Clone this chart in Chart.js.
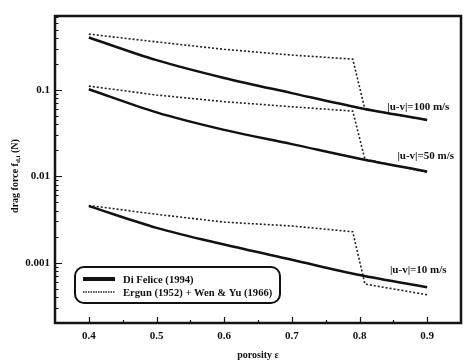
<!DOCTYPE html>
<html lang="en">
<head>
<meta charset="UTF-8">
<title>Drag force vs porosity</title>
<script src="https://cdn.jsdelivr.net/npm/chart.js"></script>
<style>
    html, body { margin: 0; padding: 0; background: #fff; }
    #wrap { width: 474px; height: 364px; }
</style>
</head>
<body>
<div id="wrap"><canvas id="dragChart" width="474" height="364"></canvas></div>
<script>
// porosity values (x)
const eps = [0.4, 0.5, 0.6, 0.7, 0.8, 0.9];
const epsErgun = [0.4, 0.5, 0.6, 0.7, 0.79, 0.808, 0.9];

// Di Felice (1994), solid lines
const diFelice100 = [0.406, 0.222, 0.138, 0.092, 0.062, 0.045];
const diFelice50 = [0.102, 0.055, 0.0345, 0.0236, 0.016, 0.0114];
const diFelice10 = [0.00452, 0.00253, 0.00162, 0.00108, 0.00072, 0.00052];

// Ergun (1952) + Wen & Yu (1966), dotted lines
const ergun100 = [0.444, 0.361, 0.296, 0.254, 0.228, 0.060, 0.045];
const ergun50 = [0.111, 0.0875, 0.0733, 0.064, 0.057, 0.0158, 0.0111];
const ergun10 = [0.0046, 0.00363, 0.00295, 0.00266, 0.00228, 0.000565, 0.000425];

const xTicks = [0.4, 0.5, 0.6, 0.7, 0.8, 0.9];
const yTicks = [0.001, 0.01, 0.1];

const speedLabels = ["|u-v|=100 m/s", "|u-v|=50 m/s", "|u-v|=10 m/s"];

const serif = "'Liberation Serif', 'DejaVu Serif', serif";

function pts(xs, ys) {
    return xs.map((x, i) => ({ x: x, y: ys[i] }));
}

function solid(label, xs, ys) {
    return {
        label: label, data: pts(xs, ys),
        borderColor: "#111", borderWidth: 2.5,
        pointRadius: 0, fill: false,
        cubicInterpolationMode: "monotone"
    };
}

function dotted(label, xs, ys) {
    return {
        label: label, data: pts(xs, ys),
        borderColor: "#222", borderWidth: 1.6, borderDash: [2, 2],
        pointRadius: 0, fill: false, tension: 0
    };
}

const solidName = "Di Felice (1994)";
const dottedName = "Ergun (1952) + Wen & Yu (1966)";

// frame and inward ticks
const framePlugin = {
    id: "frame",
    afterDatasetsDraw(chart) {
        const ctx = chart.ctx, a = chart.chartArea;
        const xs = chart.scales.x, ys = chart.scales.y;
        ctx.save();
        ctx.strokeStyle = "#111";
        ctx.lineWidth = 1.2;
        ctx.beginPath();
        for (let v = 0.4; v <= 0.9001; v += 0.05) {
            const px = Math.round(xs.getPixelForValue(v)) + 0.5;
            const major = Math.abs(v * 10 - Math.round(v * 10)) < 1e-6;
            ctx.moveTo(px, a.bottom);
            ctx.lineTo(px, a.bottom - (major ? 6 : 3));
        }
        for (let e = -4; e <= 0; e++) {
            for (let k = 1; k <= 9; k++) {
                const v = k * Math.pow(10, e);
                if (v < ys.min || v > ys.max) continue;
                const py = Math.round(ys.getPixelForValue(v)) + 0.5;
                ctx.moveTo(a.left, py);
                ctx.lineTo(a.left + (k === 1 ? 7 : 3.5), py);
            }
        }
        ctx.stroke();
        ctx.lineWidth = 2.5;
        ctx.strokeStyle = "#151515";
        ctx.strokeRect(a.left, a.top, a.right - a.left, a.bottom - a.top);
        ctx.restore();
    }
};

// curve labels and y title with subscript
const textPlugin = {
    id: "texts",
    afterDraw(chart) {
        const ctx = chart.ctx;
        const xs = chart.scales.x, ys = chart.scales.y;
        const spots = [[0.841, 0.0636], [0.856, 0.017], [0.845, 0.00081]];
        ctx.save();
        ctx.fillStyle = "#111";
        ctx.font = "bold 11px " + serif;
        ctx.textBaseline = "middle";
        ctx.textAlign = "left";
        speedLabels.forEach((t, i) => {
            ctx.fillText(t, xs.getPixelForValue(spots[i][0]), ys.getPixelForValue(spots[i][1]));
        });

        // y axis title
        ctx.translate(15, 176);
        ctx.rotate(-Math.PI / 2);
        const big = "bold 10px " + serif, small = "bold 7px " + serif;
        ctx.font = big;
        const p1 = "drag force f", p3 = " (N)";
        const w1 = ctx.measureText(p1).width, w3 = ctx.measureText(p3).width;
        ctx.font = small;
        const w2 = ctx.measureText("d,i").width;
        let x0 = -(w1 + w2 + w3) / 2;
        ctx.font = big;
        ctx.fillText(p1, x0, 0);
        ctx.font = small;
        ctx.fillText("d,i", x0 + w1, 3);
        ctx.font = big;
        ctx.fillText(p3, x0 + w1 + w2, 0);
        ctx.restore();
    }
};

// rounded legend box
const legendPlugin = {
    id: "boxLegend",
    afterDraw(chart) {
        const ctx = chart.ctx;
        const ds = chart.data.datasets;
        const items = [ds[0], ds[3]];
        const bx = 75, by = 267, bw = 205, bh = 36;
        ctx.save();
        ctx.lineWidth = 2;
        ctx.strokeStyle = "#111";
        ctx.fillStyle = "#fff";
        ctx.beginPath();
        ctx.roundRect(bx, by, bw, bh, 9);
        ctx.fill();
        ctx.stroke();
        items.forEach((d, i) => {
            const y = by + 12 + i * 13;
            ctx.beginPath();
            ctx.lineWidth = i === 0 ? 4 : 1.6;
            ctx.setLineDash(i === 0 ? [] : [1.5, 1]);
            ctx.strokeStyle = d.borderColor;
            ctx.moveTo(83, y);
            ctx.lineTo(115, y);
            ctx.stroke();
            ctx.setLineDash([]);
            ctx.fillStyle = "#111";
            ctx.font = "bold 10.6px " + serif;
            ctx.textBaseline = "middle";
            ctx.fillText(d.label, 123, y + 1);
        });
        ctx.restore();
    }
};

new Chart(document.getElementById("dragChart"), {
    type: "line",
    data: {
        datasets: [
            solid(solidName, eps, diFelice100),
            solid(solidName, eps, diFelice50),
            solid(solidName, eps, diFelice10),
            dotted(dottedName, epsErgun, ergun100),
            dotted(dottedName, epsErgun, ergun50),
            dotted(dottedName, epsErgun, ergun10)
        ]
    },
    options: {
        responsive: false,
        devicePixelRatio: 1,
        animation: false,
        layout: { padding: { left: 0, right: 13, top: 16, bottom: 0 } },
        plugins: {
            legend: { display: false },
            tooltip: { enabled: false }
        },
        scales: {
            x: {
                type: "linear",
                min: 0.35, max: 0.95,
                afterBuildTicks: s => { s.ticks = xTicks.map(v => ({ value: v })); },
                afterFit: s => { s.height = 41; },
                grid: { display: false, drawTicks: false },
                border: { display: false },
                ticks: {
                    color: "#111", padding: 7, maxRotation: 0,
                    font: { family: serif, size: 11, weight: "bold" },
                    callback: v => v.toFixed(1)
                },
                title: {
                    display: true, text: "porosity ε", color: "#111",
                    font: { family: serif, size: 10, weight: "bold" },
                    padding: { top: 0, bottom: 3 }
                }
            },
            y: {
                type: "logarithmic",
                min: 0.0002, max: 0.72,
                afterBuildTicks: s => { s.ticks = yTicks.map(v => ({ value: v })); },
                afterFit: s => { s.width = 55; },
                grid: { display: false, drawTicks: false },
                border: { display: false },
                ticks: {
                    color: "#111", padding: 5,
                    font: { family: serif, size: 11, weight: "bold" },
                    callback: v => String(v)
                }
            }
        }
    },
    plugins: [framePlugin, textPlugin, legendPlugin]
});
</script>
</body>
</html>
